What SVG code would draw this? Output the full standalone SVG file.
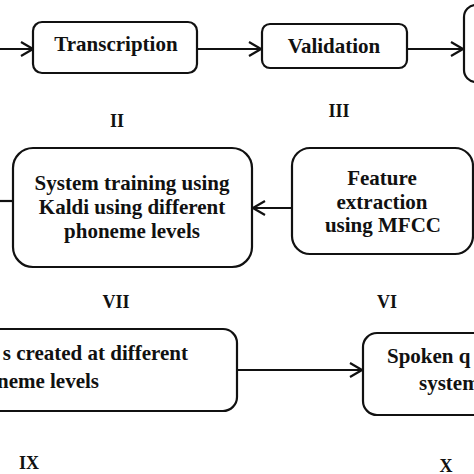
<svg xmlns="http://www.w3.org/2000/svg" width="474" height="474" viewBox="0 0 474 474">
<defs>
<style>
.box{fill:#fff;stroke:#111;stroke-width:2.2}
.t{font-family:"Liberation Serif","Times New Roman",serif;font-weight:bold;font-size:21px;fill:#111}
.n{font-family:"Liberation Serif","Times New Roman",serif;font-weight:bold;font-size:18px;fill:#111;text-anchor:middle}
.c{text-anchor:middle}
.ln{stroke:#111;stroke-width:2.2;fill:none}
</style>
<marker id="ah" viewBox="0 0 14 16" refX="13" refY="8" markerWidth="14" markerHeight="16" markerUnits="userSpaceOnUse" orient="auto">
<path d="M1,1 L13,8 L1,15" fill="none" stroke="#111" stroke-width="2.2"/>
</marker>
</defs>
<rect width="474" height="474" fill="#fff"/>
<g id="connectors">
<line class="ln" x1="0" y1="49" x2="33" y2="49" marker-end="url(#ah)"/>
<line class="ln" x1="197" y1="49" x2="261" y2="49" marker-end="url(#ah)"/>
<line class="ln" x1="407" y1="49" x2="463" y2="49" marker-end="url(#ah)"/>
<line class="ln" x1="292" y1="208" x2="253" y2="208" marker-end="url(#ah)"/>
<line class="ln" x1="0" y1="201" x2="13" y2="201"/>
<line class="ln" x1="237" y1="370" x2="362" y2="370" marker-end="url(#ah)"/>
</g>
<g id="node-transcription">
<rect class="box" x="33" y="22" width="164" height="51" rx="9"/>
<text class="t c" x="116" y="51">Transcription</text>
</g>
<g id="node-validation">
<rect class="box" x="262" y="24" width="145" height="44" rx="8"/>
<text class="t c" x="334" y="53">Validation</text>
</g>
<g id="node-iv">
<rect class="box" x="464" y="5" width="40" height="77" rx="12"/>
</g>
<g id="node-training">
<rect class="box" x="13" y="148" width="239" height="119" rx="20"/>
<text class="t c" x="132" y="190">System training using</text>
<text class="t c" x="132" y="214">Kaldi using different</text>
<text class="t c" x="132" y="238">phoneme levels</text>
</g>
<g id="node-feature">
<rect class="box" x="292" y="148" width="181" height="106" rx="18"/>
<text class="t c" x="382" y="185">Feature</text>
<text class="t c" x="382" y="209">extraction</text>
<text class="t c" x="383" y="232">using MFCC</text>
</g>
<g id="node-models">
<rect class="box" x="-20" y="329" width="257" height="82" rx="14"/>
<text class="t" x="188" y="360" text-anchor="end">s created at different</text>
<text class="t" x="99" y="388" text-anchor="end">neme levels</text>
</g>
<g id="node-spoken">
<rect class="box" x="363" y="333" width="140" height="82" rx="14"/>
<text class="t" x="387" y="363">Spoken q</text>
<text class="t" x="419" y="390">system</text>
</g>
<g id="labels">
<text class="n" x="117" y="127">II</text>
<text class="n" x="339" y="117">III</text>
<text class="n" x="116" y="308">VII</text>
<text class="n" x="387" y="308">VI</text>
<text class="n" x="29" y="469">IX</text>
<text class="n" x="446" y="472">X</text>
</g>
</svg>
